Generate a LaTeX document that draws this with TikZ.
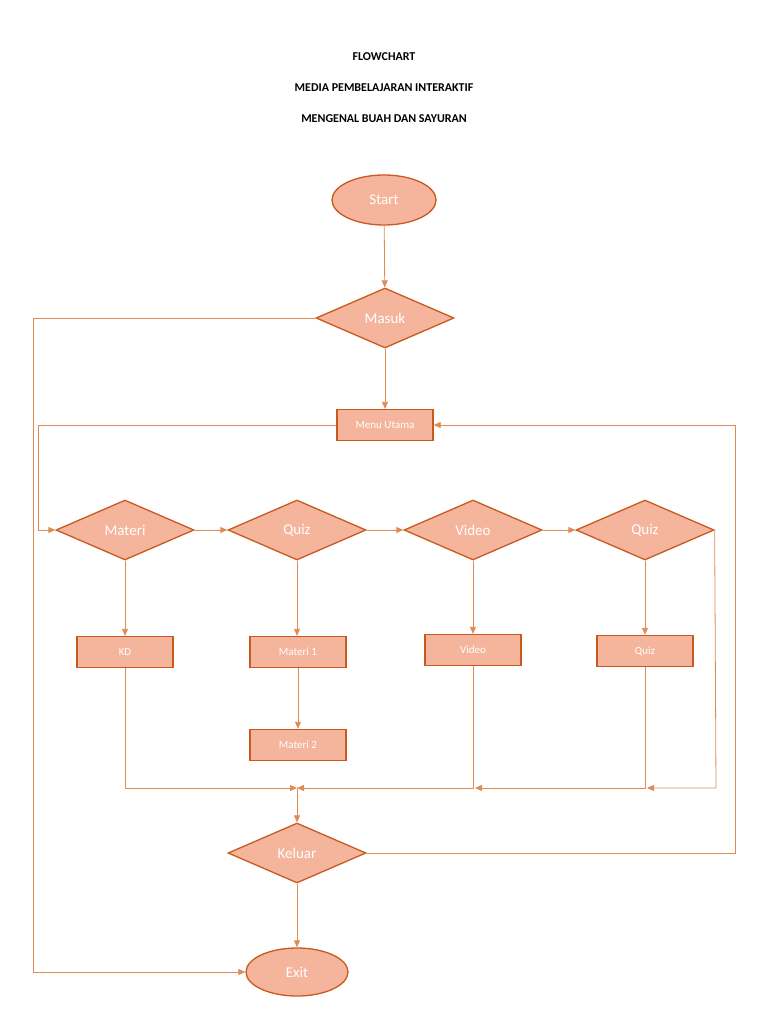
\documentclass[tikz,border=0pt]{standalone}
\usepackage{fontspec}
\setmainfont{Carlito}
\usetikzlibrary{shapes.geometric,arrows.meta}
\definecolor{fillc}{HTML}{F5B49C}
\definecolor{edgec}{HTML}{C85A1E}
\definecolor{linec}{HTML}{E08A55}
\begin{document}
\begin{tikzpicture}[x=1pt,y=-1pt,
 base/.style={draw=edgec,line width=1.3pt,fill=fillc,text=white,inner sep=0pt},
 term/.style={base,ellipse,minimum width=104pt,minimum height=50pt,font=\fontsize{15}{15}\selectfont},
 dec/.style={base,diamond,aspect=2.3,minimum width=138pt,minimum height=60pt,font=\fontsize{15}{15}\selectfont},
 proc/.style={base,rectangle,minimum width=96pt,minimum height=31pt,font=\fontsize{11}{11}\selectfont},
 conn/.style={draw=linec,line width=0.8pt},
 arr/.style={conn,-{Triangle[length=7pt,width=6pt]}},
 ttl/.style={font=\bfseries\fontsize{12}{12}\selectfont}]
\useasboundingbox (0,0) rectangle (768,1024);
\node[ttl] (t1) at (384,57) {FLOWCHART};
\node[ttl] (t2) at (384,88) {MEDIA PEMBELAJARAN INTERAKTIF};
\node[ttl] (t3) at (384,119) {MENGENAL BUAH DAN SAYURAN};
\node[term] (start) at (384,200) {Start};
\node[dec] (masuk) at (385,318) {Masuk};
\node[proc] (menu) at (385,425) {Menu Utama};
\node[dec] (d1) at (125,530) {Materi};
\node[dec] (d2) at (297,530) {Quiz};
\node[dec] (d3) at (473,530) {Video};
\node[dec] (d4) at (645,530) {Quiz};
\node[proc] (kd) at (125,652) {KD};
\node[proc] (m1) at (298,652) {Materi 1};
\node[proc] (vid) at (473,650) {Video};
\node[proc] (qz) at (645,651) {Quiz};
\node[proc] (m2) at (298,745) {Materi 2};
\node[dec] (kel) at (297,853) {Keluar};
\node[term,minimum width=102pt,minimum height=48pt] (exit) at (297,972) {Exit};
\coordinate (j) at (297,788);
\draw[arr] (start) -- (masuk);
\draw[arr] (masuk) -- (menu);
\draw[arr] (masuk.west) -- (33,318) -- (33,972) -- (exit.west);
\draw[arr] (menu.west) -- (38,425) -- (38,530) -- (d1.west);
\draw[arr] (d1) -- (d2);
\draw[arr] (d2) -- (d3);
\draw[arr] (d3) -- (d4);
\draw[arr] (d1) -- (kd);
\draw[arr] (d2.south) -- (m1.north -| d2.south);
\draw[arr] (d3) -- (vid);
\draw[arr] (d4) -- (qz);
\draw[arr] (m1) -- (m2);
\draw[arr] (kd.south) -- (125,788) -- (j);
\draw[arr] (vid.south) -- (473,788) -- (j);
\draw[arr] (qz.south) -- (645,788) -- (475,788);
\draw[arr] (d4.east) -- (716,788) -- (647,788);
\draw[arr] (j) -- (kel);
\draw[arr] (kel.east) -- (735,853) -- (735,425) -- (menu.east);
\draw[arr] (kel) -- (exit);
\end{tikzpicture}
\end{document}
